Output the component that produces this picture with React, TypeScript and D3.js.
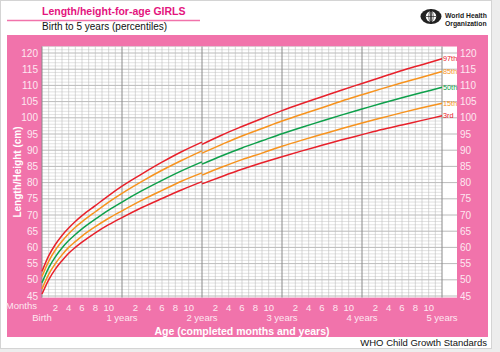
import React from 'react';
import * as d3 from 'd3';

// WHO length/height-for-age, girls, percentiles (cm)
const lengthMonths = [0, 1, 2, 3, 4, 5, 6, 8, 10, 12, 15, 18, 21, 24];
const lengthP3 = [45.6, 50.0, 53.3, 55.9, 58.2, 60.0, 61.6, 64.5, 67.0, 69.2, 72.3, 75.1, 77.8, 80.3];
const lengthP15 = [47.2, 51.7, 55.0, 57.7, 60.0, 61.8, 63.5, 66.4, 69.0, 71.3, 74.6, 77.6, 80.5, 83.0];
const lengthP50 = [49.1, 53.7, 57.1, 59.8, 62.1, 64.0, 65.7, 68.7, 71.5, 74.0, 77.5, 80.7, 83.7, 86.4];
const lengthP85 = [51.0, 55.7, 59.2, 61.9, 64.2, 66.2, 67.9, 71.0, 74.0, 76.7, 80.4, 83.8, 86.9, 89.8];
const lengthP97 = [52.6, 57.4, 60.9, 63.7, 66.0, 68.0, 69.8, 72.9, 76.0, 78.9, 82.7, 86.3, 89.6, 92.5];

const heightMonths = [24, 27, 30, 33, 36, 39, 42, 45, 48, 51, 54, 57, 60];
const heightP3 = [79.6, 81.9, 84.1, 86.1, 88.0, 89.8, 91.5, 93.2, 94.8, 96.4, 97.8, 99.2, 100.6];
const heightP15 = [82.3, 84.8, 87.1, 89.1, 91.2, 93.1, 94.9, 96.7, 98.4, 100.0, 101.6, 103.1, 104.5];
const heightP50 = [85.7, 88.3, 90.7, 92.9, 95.1, 97.1, 99.0, 100.9, 102.7, 104.5, 106.2, 107.8, 109.4];
const heightP85 = [89.1, 91.8, 94.4, 96.7, 99.0, 101.1, 103.1, 105.2, 107.1, 109.0, 110.8, 112.5, 114.3];
const heightP97 = [91.8, 94.7, 97.3, 99.8, 102.2, 104.4, 106.5, 108.6, 110.6, 112.6, 114.6, 116.4, 118.2];

const percentileLabels = ['3rd', '15th', '50th', '85th', '97th'];
const yTicks = [45, 50, 55, 60, 65, 70, 75, 80, 85, 90, 95, 100, 105, 110, 115, 120];
const monthTickLabels = ['2', '4', '6', '8', '10'];
const yearLabels = ['1 years', '2 years', '3 years', '4 years', '5 years'];

const RED = '#e8212b';
const ORANGE = '#f7931e';
const GREEN = '#0ea04b';
const PINK = '#f173ab';
const LABEL = '#fde8f1';
const colors = [RED, ORANGE, GREEN, ORANGE, RED];
const FONT = 'Liberation Sans, Arial, sans-serif';

export default function App() {
  const W = 500, H = 352;
  const x = d3.scaleLinear().domain([0, 60]).range([42, 442]);
  const y = d3.scaleLinear().domain([45, 120]).range([296, 53]);
  const gTop = y(122), gBot = y(44.5);
  const colRight = 457;

  const lengthSeries = [lengthP3, lengthP15, lengthP50, lengthP85, lengthP97];
  const heightSeries = [heightP3, heightP15, heightP50, heightP85, heightP97];
  const line = d3.line<[number, number]>()
    .x(d => x(d[0])).y(d => y(d[1]))
    .curve(d3.curveMonotoneX);

  const cmLines = d3.range(45, 123);
  const monthLines = d3.range(0, 61);

  return (
    <svg width={W} height={H} style={{ position: 'absolute', left: 0, top: 0, fontFamily: FONT }}>
      <rect width={W} height={H} fill="#ededed" />
      <rect x={0.5} y={0.5} width={491} height={348} fill="#fff" stroke="#d4d4d4" />

      {/* header */}
      <text x={42} y={15} fill="#e4147e" fontSize={10.5} fontWeight="bold">Length/height-for-age GIRLS</text>
      <line x1={7} x2={200} y1={20.5} y2={20.5} stroke={PINK} strokeWidth={1.5} />
      <text x={42} y={29.5} fill="#111" fontSize={10}>Birth to 5 years (percentiles)</text>

      {/* WHO emblem */}
      <g transform="translate(431,16.5)">
        <ellipse rx={10.5} ry={7.5} fill="#222" />
        <circle r={5.2} fill="#fff" />
        <ellipse rx={2.2} ry={5.2} fill="none" stroke="#222" strokeWidth={0.7} />
        <line x1={-5.2} x2={5.2} y1={0} y2={0} stroke="#222" strokeWidth={0.7} />
        <line x1={0} x2={0} y1={-7.5} y2={7.5} stroke="#222" strokeWidth={1.5} />
      </g>
      <text x={445} y={18} fontSize={6.8} fontWeight="bold" fill="#222">World Health</text>
      <text x={445} y={25.5} fontSize={6.8} fontWeight="bold" fill="#222">Organization</text>

      {/* pink panel */}
      <rect x={7} y={35} width={481} height={302} fill={PINK} />

      {/* grid area */}
      <rect x={x(0)} y={gTop} width={colRight - x(0)} height={gBot - gTop} fill="#fff" />
      {cmLines.map(c => (
        <line key={'h' + c} x1={x(0)} x2={c % 5 === 0 ? colRight : x(60)} y1={y(c)} y2={y(c)}
          stroke={c % 5 === 0 ? '#a8a8a8' : '#cfcfcf'} strokeWidth={c % 5 === 0 ? 0.8 : 0.6} />
      ))}
      {monthLines.map(m => (
        <line key={'v' + m} x1={x(m)} x2={x(m)} y1={gTop} y2={gBot}
          stroke={m % 12 === 0 ? '#8a8a8a' : '#bdbdbd'} strokeWidth={m % 12 === 0 ? 1 : 0.6} />
      ))}

      {/* percentile curves */}
      {lengthSeries.map((s, i) => (
        <path key={'l' + i} d={line(lengthMonths.map((m, j) => [m, s[j]] as [number, number])) || ''}
          fill="none" stroke={colors[i]} strokeWidth={1.5} />
      ))}
      {heightSeries.map((s, i) => (
        <path key={'t' + i} d={line(heightMonths.map((m, j) => [m, s[j]] as [number, number])) || ''}
          fill="none" stroke={colors[i]} strokeWidth={1.5} />
      ))}
      {heightSeries.map((s, i) => (
        <text key={'p' + i} x={x(60) + 1} y={y(s[s.length - 1]) + 2.5} fontSize={7.3} fill={colors[i]}>
          {percentileLabels[i]}
        </text>
      ))}

      {/* y axis labels */}
      {yTicks.map(t => (
        <g key={'y' + t}>
          <text x={38} y={y(t) + 3.5} textAnchor="end" fontSize={10} fill={LABEL}>{t}</text>
          <text x={460} y={y(t) + 3.5} textAnchor="start" fontSize={10} fill={LABEL}>{t}</text>
        </g>
      ))}
      <text transform="translate(21,172) rotate(-90)" textAnchor="middle" fontSize={10}
        fontWeight="bold" fill="#fff">Length/Height (cm)</text>

      {/* x axis labels */}
      <text x={37} y={309} textAnchor="end" fontSize={9.5} fill={LABEL}>Months</text>
      <text x={x(0)} y={320.5} textAnchor="middle" fontSize={9.5} fill={LABEL}>Birth</text>
      {d3.range(0, 5).map(yr => (
        <g key={'yr' + yr}>
          {monthTickLabels.map((lbl, k) => (
            <text key={lbl} x={x(yr * 12 + (k + 1) * 2)} y={310.5} textAnchor="middle" fontSize={9.5} fill={LABEL}>{lbl}</text>
          ))}
          <text x={x((yr + 1) * 12)} y={320.5} textAnchor="middle" fontSize={9.5} fill={LABEL}>{yearLabels[yr]}</text>
        </g>
      ))}
      <text x={(x(0) + x(60)) / 2} y={335} textAnchor="middle" fontSize={10.5} fontWeight="bold" fill="#fff">
        Age (completed months and years)
      </text>

      <text x={487} y={346} textAnchor="end" fontSize={9.5} fill="#111">WHO Child Growth Standards</text>
    </svg>
  );
}
